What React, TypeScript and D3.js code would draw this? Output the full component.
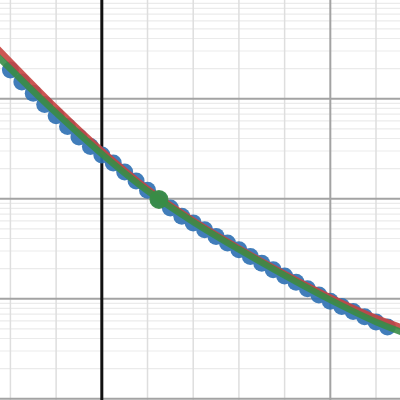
import React from "react";
import * as d3 from "d3";

// sample points (x, y), y on a log axis
const xValues = [
  -2, -1.75, -1.5, -1.25, -1, -0.75, -0.5, -0.25, 0, 0.25, 0.5, 0.75, 1, 1.25, 1.5, 1.75, 2,
  2.25, 2.5, 2.75, 3, 3.25, 3.5, 3.75, 4, 4.25, 4.5, 4.75, 5, 5.25, 5.5, 5.75, 6, 6.25,
];
const yValues = [
  19360, 14720, 11350, 8730, 6745, 5270, 4140, 3330, 2735, 2275, 1850, 1503, 1216, 984, 807,
  668, 573, 490, 420, 360, 308, 264, 226, 195, 169, 146, 126, 109, 94.2, 83.6, 74.3, 66.1, 58.6,
  52.1,
];
const highlightIndex = 13;

// two fitted curves, sampled across the view
const fitX = [-2.3, -2, -1, 0, 1, 2, 3, 4, 5, 6, 6.6];
const greenFit = [27040, 19860, 7211, 2805, 1197, 586, 311, 171, 97.3, 58.6, 45.6];
const redFit = [32660, 23550, 8128, 3034, 1259, 608, 321, 178, 103.5, 64.4, 51.2];

const width = 400;
const height = 400;

const App: React.FC = () => {
  const x = d3.scaleLinear().domain([-2.228, 6.525]).range([0, width]);
  const y = d3.scaleLog().domain([Math.pow(10, 0.987), Math.pow(10, 4.987)]).range([height, 0]);

  const xTicks = d3.range(Math.ceil(x.domain()[0]), Math.floor(x.domain()[1]) + 1);
  const yTicks = y.ticks();
  const isDecade = (v: number) => Math.abs(Math.log10(v) - Math.round(Math.log10(v))) < 1e-6;

  const line = d3
    .line<number>()
    .x((_, i) => x(fitX[i]))
    .y((d) => y(d))
    .curve(d3.curveMonotoneX);

  return (
    <svg
      width={width}
      height={height}
      style={{ position: "absolute", left: 0, top: 0, background: "#fff" }}
    >
      <g>
        {yTicks
          .filter((t) => !isDecade(t))
          .map((t) => (
            <line key={"ym" + t} x1={0} x2={width} y1={y(t)} y2={y(t)} stroke="#ebebeb" strokeWidth={1.2} />
          ))}
        {xTicks
          .filter((t) => t % 5 !== 0)
          .map((t) => (
            <line key={"xm" + t} x1={x(t)} x2={x(t)} y1={0} y2={height} stroke="#dedede" strokeWidth={1.5} />
          ))}
        {yTicks.filter(isDecade).map((t) => (
          <line key={"yM" + t} x1={0} x2={width} y1={y(t)} y2={y(t)} stroke="#a3a3a3" strokeWidth={2} />
        ))}
        {xTicks
          .filter((t) => t % 5 === 0 && t !== 0)
          .map((t) => (
            <line key={"xM" + t} x1={x(t)} x2={x(t)} y1={0} y2={height} stroke="#a3a3a3" strokeWidth={2} />
          ))}
        <line x1={x(0)} x2={x(0)} y1={0} y2={height} stroke="#111" strokeWidth={3} />
      </g>

      <g opacity={0.9}>
        {xValues.map((xv, i) => (
          <circle key={i} cx={x(xv)} cy={y(yValues[i])} r={8.5} fill="#2d70b3" />
        ))}
      </g>

      <path d={line(redFit) ?? ""} fill="none" stroke="#c74440" strokeOpacity={0.9} strokeWidth={6} />
      <path d={line(greenFit) ?? ""} fill="none" stroke="#388c46" strokeOpacity={0.9} strokeWidth={6.5} />

      <circle
        cx={x(xValues[highlightIndex])}
        cy={y(yValues[highlightIndex])}
        r={9.5}
        fill="#388c46"
        fillOpacity={0.95}
      />
    </svg>
  );
};

export default App;
